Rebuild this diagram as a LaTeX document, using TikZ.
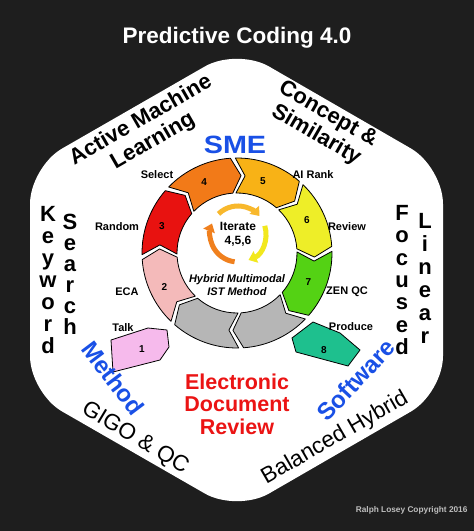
\documentclass[tikz,border=0pt]{standalone}
\usepackage{fontspec}
\setmainfont{Liberation Sans}
\usetikzlibrary{arrows.meta}

\definecolor{bgdark}{RGB}{30,30,30}
\definecolor{smeblue}{RGB}{25,80,230}
\definecolor{edrred}{RGB}{235,20,20}
\definecolor{pieceA}{RGB}{246,186,236}
\definecolor{pieceB}{RGB}{244,186,186}
\definecolor{pieceC}{RGB}{232,18,16}
\definecolor{pieceD}{RGB}{242,122,24}
\definecolor{pieceE}{RGB}{248,178,22}
\definecolor{pieceF}{RGB}{238,238,40}
\definecolor{pieceG}{RGB}{84,210,20}
\definecolor{pieceH}{RGB}{30,192,142}
\definecolor{piecegray}{RGB}{182,182,182}
\definecolor{iterA}{RGB}{240,128,30}
\definecolor{iterB}{RGB}{248,184,44}
\definecolor{iterC}{RGB}{242,232,30}
\definecolor{copygray}{RGB}{190,190,190}

\begin{document}
\begin{tikzpicture}[x=1pt,y=1pt,
	piece/.style={draw=black, line width=0.8pt, line join=round},
	num/.style={font=\fontsize{10}{12}\selectfont\bfseries},
	steplabel/.style={font=\fontsize{11}{13}\selectfont\bfseries},
	bigword/.style={font=\fontsize{22}{24}\selectfont\bfseries, align=center},
	plainword/.style={font=\fontsize{22.5}{24}\selectfont},
	blueword/.style={font=\fontsize{24}{26}\selectfont\bfseries, text=smeblue},
	iterarrow/.style={line width=5pt, -{Triangle[width=12pt,length=8pt]}}]
		\useasboundingbox (0,0) rectangle (474,531);
		\fill[bgdark] (0,0) rectangle (474,531);
		\fill[white, rounded corners=37pt] (340,423.5) -- (443,364) -- (443,138) -- (237,19) -- (30,138) -- (30,364) -- (237,483) -- cycle;
		\node[font=\fontsize{22.5}{24}\selectfont\bfseries, text=white] (title) at (237,493) {Predictive Coding 4.0};
		% ring of steps
		\begin{scope}[shift={(237,278)}]
			\filldraw[piece, fill=pieceC] (181:95) arc[start angle=181,end angle=139,radius=95] -- (132:77.5) -- (139:60) arc[start angle=139,end angle=181,radius=60] -- (174:77.5) -- cycle;
			\filldraw[piece, fill=pieceD] (136:95) arc[start angle=136,end angle=94,radius=95] -- (87:77.5) -- (94:60) arc[start angle=94,end angle=136,radius=60] -- (129:77.5) -- cycle;
			\filldraw[piece, fill=pieceE] (91:95) arc[start angle=91,end angle=49,radius=95] -- (42:77.5) -- (49:60) arc[start angle=49,end angle=91,radius=60] -- (84:77.5) -- cycle;
			\filldraw[piece, fill=pieceF] (46:95) arc[start angle=46,end angle=4,radius=95] -- (-3:77.5) -- (4:60) arc[start angle=4,end angle=46,radius=60] -- (39:77.5) -- cycle;
			\filldraw[piece, fill=pieceG] (1:95) arc[start angle=1,end angle=-41,radius=95] -- (-48:77.5) -- (-41:60) arc[start angle=-41,end angle=1,radius=60] -- (-6:77.5) -- cycle;
			\filldraw[piece, fill=piecegray] (-44:95) arc[start angle=-44,end angle=-86,radius=95] -- (-93:77.5) -- (-86:60) arc[start angle=-86,end angle=-44,radius=60] -- (-51:77.5) -- cycle;
			\filldraw[piece, fill=piecegray] (-89:95) arc[start angle=-89,end angle=-131,radius=95] -- (-138:77.5) -- (-131:60) arc[start angle=-131,end angle=-89,radius=60] -- (-96:77.5) -- cycle;
			\filldraw[piece, fill=pieceB] (-134:95) arc[start angle=-134,end angle=-176,radius=95] -- (-183:77.5) -- (-176:60) arc[start angle=-176,end angle=-134,radius=60] -- (-141:77.5) -- cycle;
			\node[num] (n2) at (-155:80) {2};
			\node[num] (n3) at (160:80) {3};
			\node[num] (n4) at (115:78) {4};
			\node[num] (n5) at (70:76) {5};
			\node[num] (n6) at (25:77) {6};
			\node[num] (n7) at (-22:77) {7};
		\end{scope}
		% the two loose pieces
		\filldraw[piece, fill=pieceA] (111,191) -- (148,203) -- (167,201) -- (169,184) -- (160,171) -- (113,159) -- cycle;
		\filldraw[piece, fill=pieceH] (292,193) -- (313,209) -- (340,198) -- (360,181) -- (348,165) -- (296,179) -- cycle;
		\node[num] (n1) at (142,182) {1};
		\node[num] (n8) at (324,181) {8};
		\node[steplabel] (talk) at (123,203) {Talk};
		\node[steplabel] (eca) at (127,239) {ECA};
		\node[steplabel] (random) at (117,304) {Random};
		\node[steplabel] (select) at (157,356) {Select};
		\node[steplabel] (airank) at (313,356) {AI Rank};
		\node[steplabel] (review) at (347,304) {Review};
		\node[steplabel] (zenqc) at (347,239) {ZEN QC};
		\node[steplabel] (produce) at (351,204) {Produce};
		% iterate loop
		\coordinate (itc) at (238,297);
		\draw[iterarrow, iterB, shift={(itc)}] (134:28) arc[start angle=134,end angle=40,radius=28];
		\draw[iterarrow, iterC, shift={(itc)}] (17:28) arc[start angle=17,end angle=-68,radius=28];
		\draw[iterarrow, iterA, shift={(itc)}] (263:28) arc[start angle=263,end angle=158,radius=28];
		\node[font=\fontsize{12}{14}\selectfont\bfseries, align=center] (iter) at (itc) {Iterate\\4,5,6};
		\node[font=\fontsize{11}{13}\selectfont\bfseries\itshape, align=center] (ist) at (237,246) {Hybrid Multimodal\\IST Method};
		% words round the hexagon
		\node[font=\fontsize{25}{27}\selectfont\bfseries, text=smeblue, xscale=1.15] (sme) at (235,386) {SME};
		\node[bigword, rotate=30] (aml) at (147,400) {Active Machine\\Learning};
		\node[bigword, rotate=-30] (concept) at (322,406) {Concept \&\\Similarity};
		\node[font=\fontsize{22}{22}\selectfont\bfseries, align=center] (keyword) at (48,251) {K\\e\\y\\w\\o\\r\\d};
		\node[font=\fontsize{22}{21}\selectfont\bfseries, align=center] (search) at (70,257) {S\\e\\a\\r\\c\\h};
		\node[font=\fontsize{22}{22.3}\selectfont\bfseries, align=center] (focused) at (402,251) {F\\o\\c\\u\\s\\e\\d};
		\node[font=\fontsize{22}{23}\selectfont\bfseries, align=center] (linear) at (425,253) {L\\i\\n\\e\\a\\r};
		\node[blueword, rotate=-53] (method) at (113,153) {Method};
		\node[blueword, rotate=47] (software) at (356,151) {Software};
		\node[plainword, rotate=-31] (gigo) at (135,93) {GIGO \& QC};
		\node[plainword, rotate=30] (balanced) at (335,93) {Balanced Hybrid};
		\node[font=\fontsize{21.5}{22.5}\selectfont\bfseries, text=edrred, align=center] (edr) at (237,127) {Electronic\\Document\\Review};
		\node[font=\fontsize{8.3}{10}\selectfont\bfseries, text=copygray, anchor=east] (copy) at (471,21) {Ralph Losey Copyright 2016};
	\end{tikzpicture}
\end{document}
